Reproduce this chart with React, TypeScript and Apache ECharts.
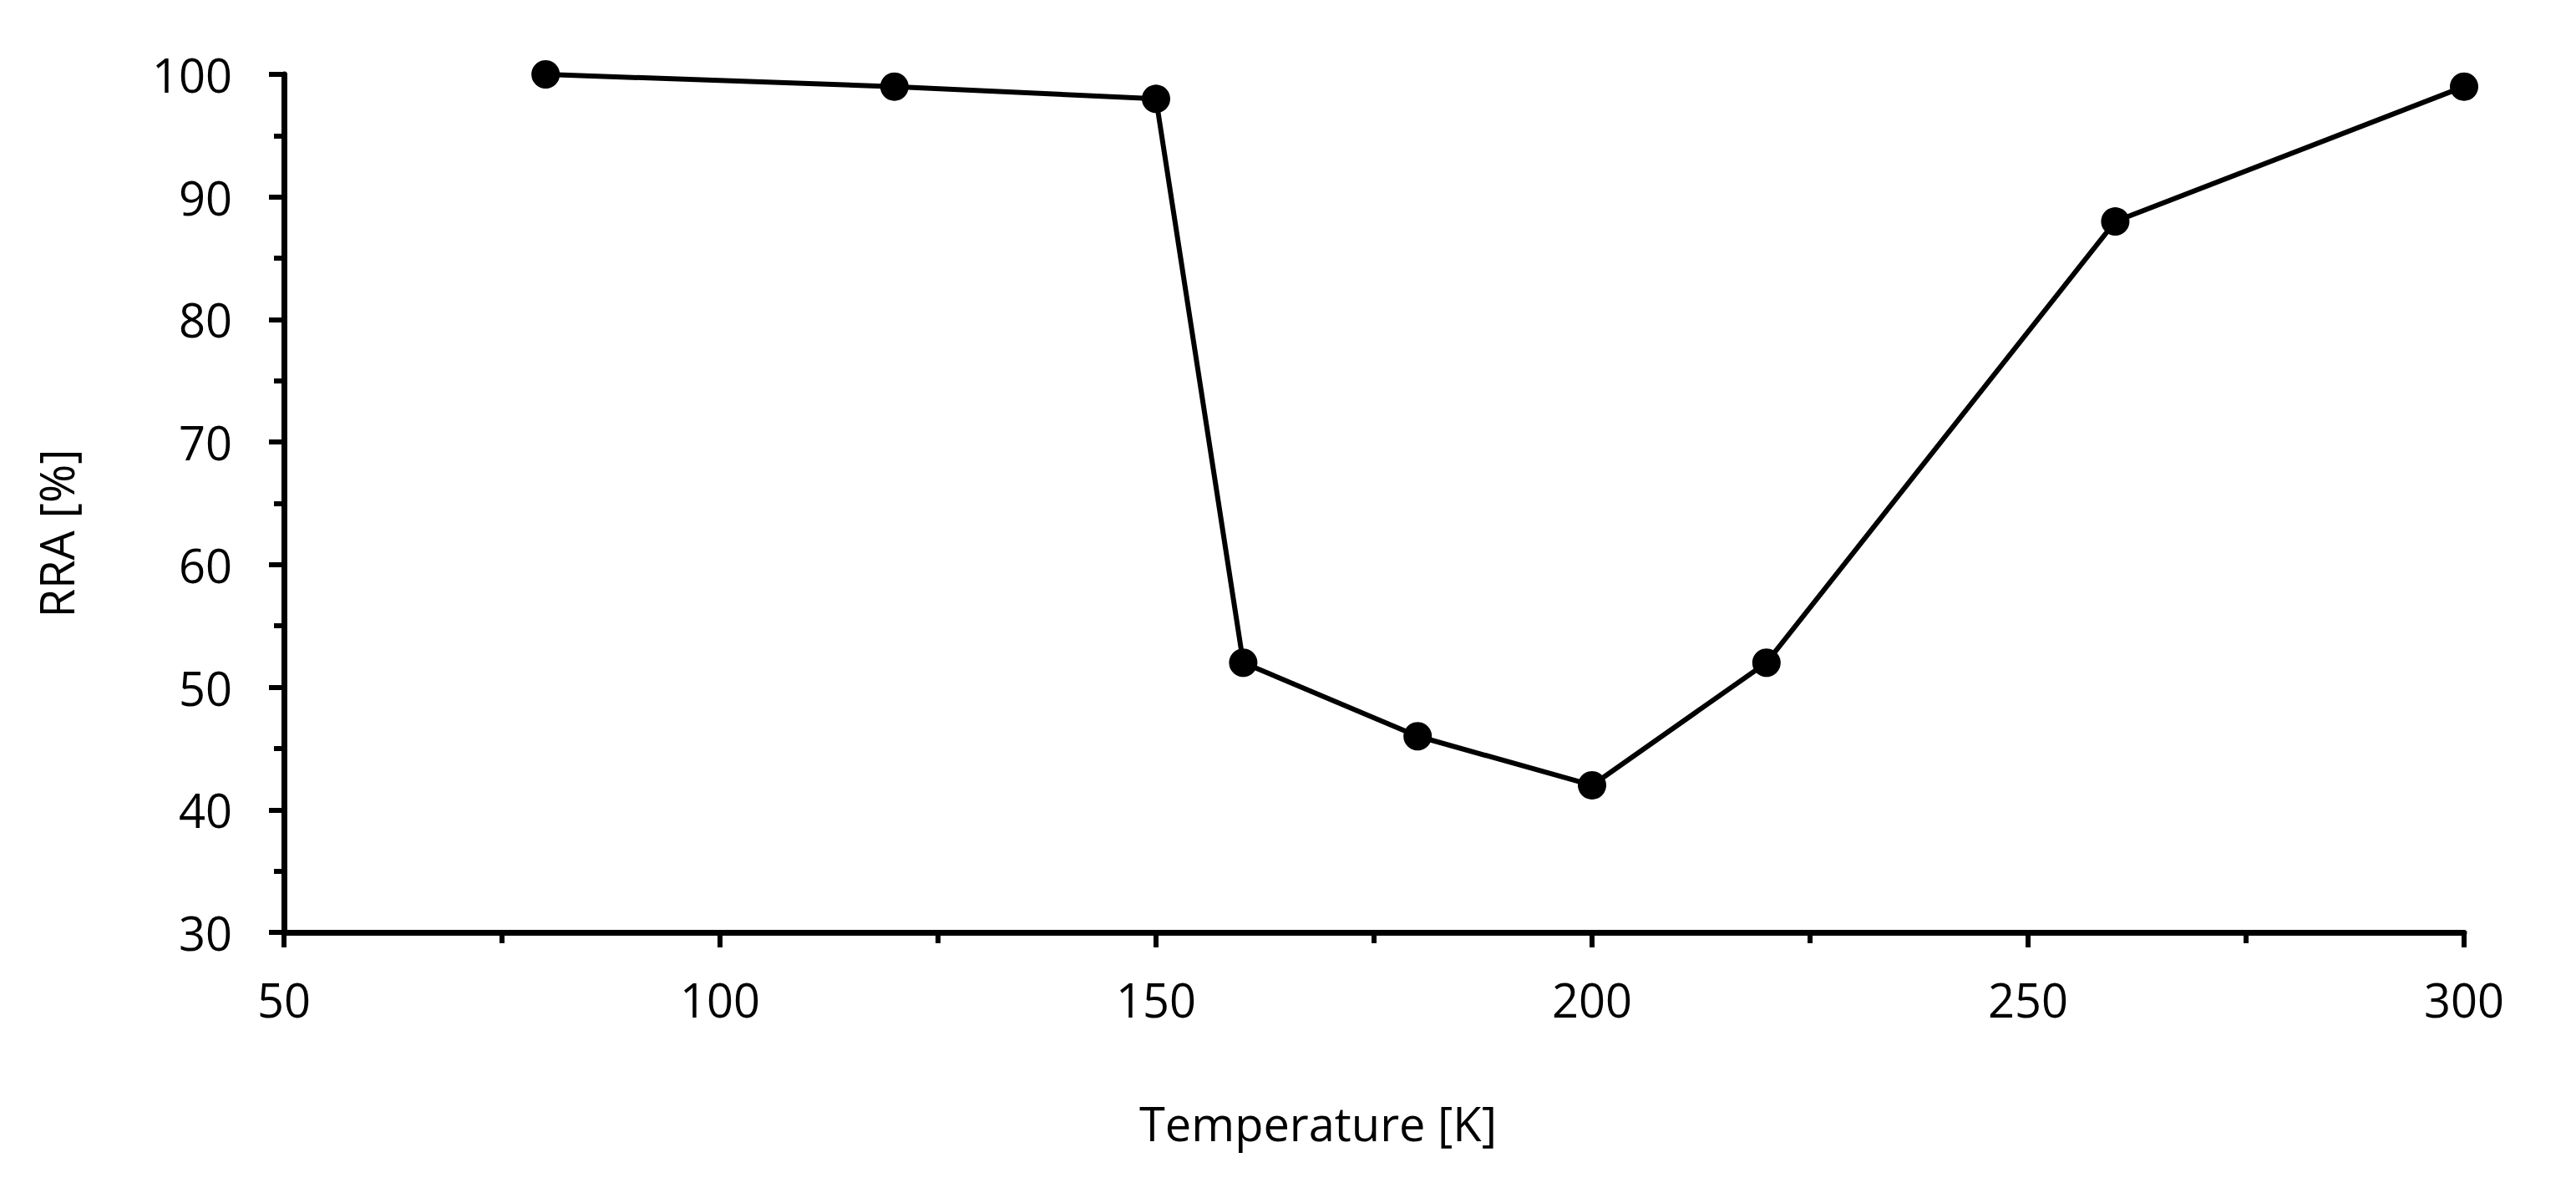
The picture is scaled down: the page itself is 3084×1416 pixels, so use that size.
import React, { useEffect, useRef } from "react";
import * as echarts from "echarts";

const temperatures = [80, 120, 150, 160, 180, 200, 220, 260, 300];
const rraValues = [100, 99, 98, 52, 46, 42, 52, 88, 99];
const xAxisTitle = "Temperature [K]";
const yAxisTitle = "RRA [%]";

const FONT = "'Open Sans', 'Noto Sans', sans-serif";

export default function App() {
  const ref = useRef<HTMLDivElement>(null);
  useEffect(() => {
    if (!ref.current) return;
    const chart = echarts.init(ref.current, undefined, { renderer: "svg" });
    const data = temperatures.map((t, i) => [t, rraValues[i]]);
    chart.setOption({
      animation: false,
      backgroundColor: "#ffffff",
      textStyle: { fontFamily: FONT },
      grid: { left: 340, right: 134, top: 89, bottom: 300, containLabel: false },
      xAxis: {
        type: "value",
        min: 50,
        max: 300,
        interval: 50,
        name: xAxisTitle,
        nameLocation: "middle",
        nameGap: 200,
        nameTextStyle: { fontSize: 56, color: "#000", fontFamily: FONT, padding: [0, 134, 0, 0] },
        axisLine: { show: true, onZero: false, lineStyle: { color: "#000", width: 7 } },
        axisTick: { show: true, inside: false, length: 18, lineStyle: { color: "#000", width: 6 } },
        minorTick: { show: true, splitNumber: 2, length: 13, lineStyle: { color: "#000", width: 6 } },
        axisLabel: { fontSize: 56, color: "#000", margin: 52, fontFamily: FONT },
        splitLine: { show: false },
      },
      yAxis: {
        type: "value",
        min: 30,
        max: 100,
        interval: 10,
        name: yAxisTitle,
        nameLocation: "middle",
        nameGap: 245,
        nameRotate: 90,
        nameTextStyle: { fontSize: 56, color: "#000", fontFamily: FONT, padding: [0, 72, 0, 0] },
        axisLine: { show: true, onZero: false, lineStyle: { color: "#000", width: 7 } },
        axisTick: { show: true, inside: false, length: 18, lineStyle: { color: "#000", width: 6 } },
        minorTick: { show: true, splitNumber: 2, length: 12, lineStyle: { color: "#000", width: 6 } },
        axisLabel: { fontSize: 56, color: "#000", margin: 62, fontFamily: FONT },
        splitLine: { show: false },
      },
      series: [
        {
          type: "line",
          data,
          symbol: "circle",
          symbolSize: 34,
          itemStyle: { color: "#000" },
          lineStyle: { color: "#000", width: 6 },
          clip: false,
        },
      ],
    });
    return () => chart.dispose();
  }, []);
  return (
    <div
      ref={ref}
      style={{ position: "fixed", left: 0, top: 0, width: 3084, height: 1416, background: "#fff" }}
    />
  );
}
